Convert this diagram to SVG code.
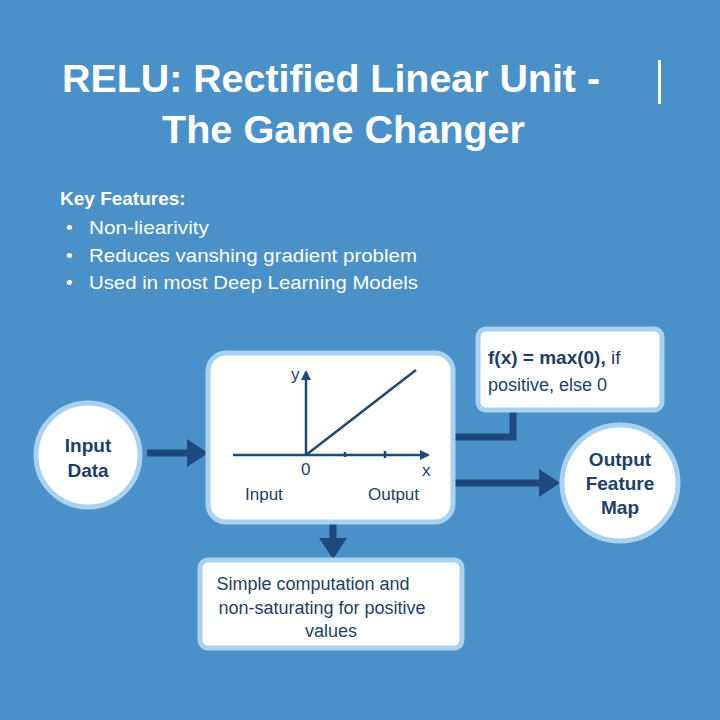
<svg xmlns="http://www.w3.org/2000/svg" width="720" height="720" viewBox="0 0 720 720">
<style>
text{font-family:"Liberation Sans",Arial,sans-serif;}
.t{fill:#fff;font-weight:bold;font-size:38px}
.f{fill:#fff;font-size:19px}
.box{fill:#fff;stroke:#a8d2f0;stroke-width:5}
.n{fill:#1c3f6a;font-size:19px;font-weight:bold;text-anchor:middle}
.d{fill:#1c3f6a;font-size:17px}
.ax{stroke:#1e4a78;stroke-width:2.5;fill:none}
.con{stroke:#1d4a7c;stroke-width:7;fill:none}
</style>
<defs>
<marker id="ah" markerWidth="4" markerHeight="4" refX="1" refY="2" orient="auto" markerUnits="strokeWidth"><path d="M0,0 L3,2 L0,4 z" fill="#1d4a7c"/></marker>
<marker id="sa" markerWidth="10" markerHeight="10" refX="8" refY="5" orient="auto" markerUnits="userSpaceOnUse"><path d="M0,0 L10,5 L0,10 z" fill="#1e4a78"/></marker>
</defs>
<rect width="720" height="720" fill="#4a91c9"/>
<text class="t" x="62" y="92" textLength="538" lengthAdjust="spacingAndGlyphs">RELU: Rectified Linear Unit -</text>
<text class="t" x="162" y="143" textLength="363" lengthAdjust="spacingAndGlyphs">The Game Changer</text>
<rect x="658" y="60" width="3" height="44" fill="#fff"/>
<text x="60" y="205" fill="#fff" font-size="19" font-weight="bold">Key Features:</text>
<g class="f">
<text x="66" y="234">•</text><text x="89" y="234" textLength="120" lengthAdjust="spacingAndGlyphs">Non-liearivity</text>
<text x="66" y="262">•</text><text x="89" y="262" textLength="328" lengthAdjust="spacingAndGlyphs">Reduces vanshing gradient problem</text>
<text x="66" y="289">•</text><text x="89" y="289" textLength="329" lengthAdjust="spacingAndGlyphs">Used in most Deep Learning Models</text>
</g>
<g id="connectors">
<path class="con" d="M147,453 H194" marker-end="url(#ah)"/>
<path class="con" d="M455,437 H513 V411"/>
<path class="con" d="M455,483 H546" marker-end="url(#ah)"/>
<path class="con" d="M333,524 V545" marker-end="url(#ah)"/>
</g>
<g id="input"><circle class="box" cx="88" cy="455" r="52"/>
<text class="n" x="88" y="452">Input</text><text class="n" x="88" y="477">Data</text></g>
<g id="relu"><rect class="box" x="208" y="353" width="245" height="169" rx="18"/>
<path class="ax" d="M306,455 V372" marker-end="url(#sa)"/>
<path class="ax" d="M233,455 H428" marker-end="url(#sa)"/>
<path class="ax" d="M306,455 L416,370"/>
<path class="ax" d="M345,452 v5 M385,451 v7" stroke-width="1.5"/>
<text class="d" x="291" y="380">y</text>
<text class="d" x="301" y="475">0</text>
<text class="d" x="422" y="476">x</text>
<text class="d" x="245" y="500" font-size="18">Input</text>
<text class="d" x="368" y="500" font-size="18">Output</text></g>
<g id="formula"><rect class="box" x="478" y="329" width="184" height="81" rx="8"/>
<text x="488" y="364" fill="#1c3f6a" font-size="19"><tspan font-weight="bold">f(x) = max(0),</tspan> if</text>
<text x="488" y="391" fill="#1c3f6a" font-size="18">positive, else 0</text></g>
<g id="output"><circle class="box" cx="620" cy="483" r="58"/>
<text class="n" x="620" y="466">Output</text><text class="n" x="620" y="490">Feature</text><text class="n" x="620" y="514">Map</text></g>
<g id="note"><rect class="box" x="200" y="560" width="262" height="88" rx="8"/>
<g fill="#1c3f6a" font-size="18" text-anchor="middle"><text x="313" y="590">Simple computation and</text>
<text x="322" y="614">non-saturating for positive</text><text x="331" y="637">values</text></g></g>
</svg>
